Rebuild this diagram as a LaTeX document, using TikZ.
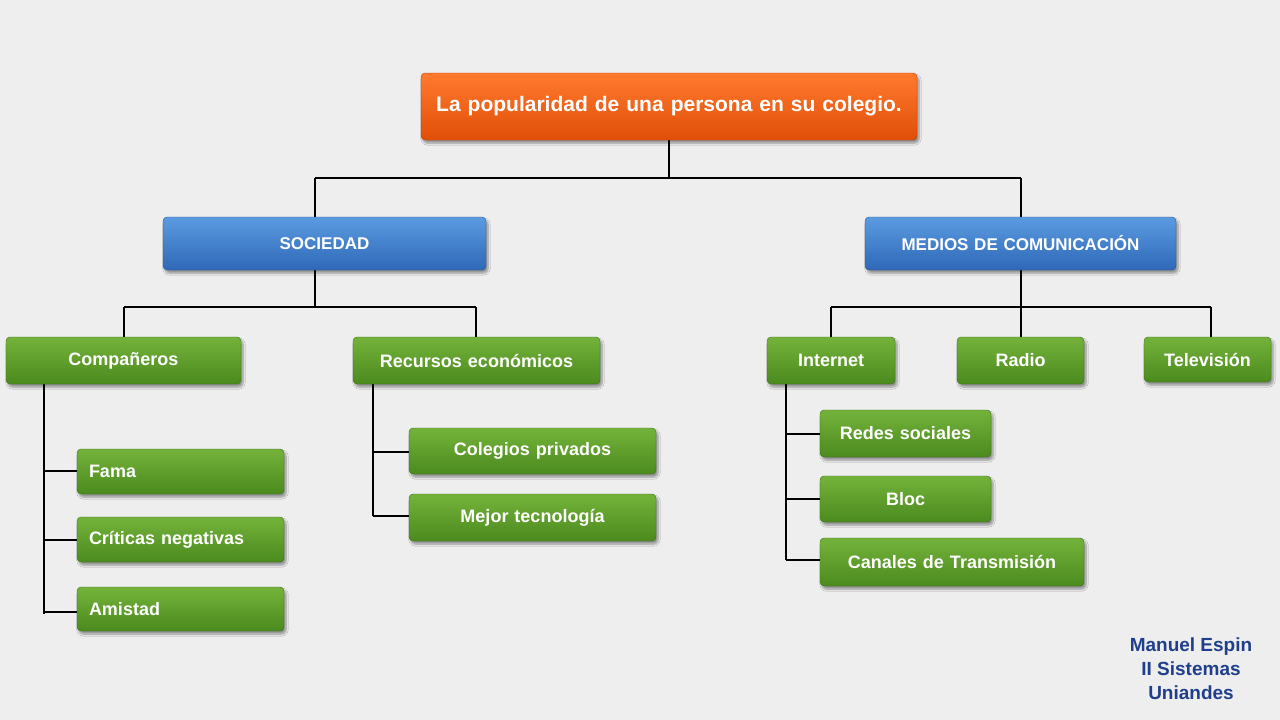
\documentclass[tikz,border=0pt]{standalone}
\usepackage{fontspec}
\setmainfont{Liberation Sans}
\usetikzlibrary{shadows.blur}
\definecolor{bg}{HTML}{EEEEEE}
\definecolor{gtop}{HTML}{74B33A}\definecolor{gbot}{HTML}{4B8A1E}
\definecolor{btop}{HTML}{5B9BE0}\definecolor{bbot}{HTML}{2F68B8}
\definecolor{otop}{HTML}{FF7A2E}\definecolor{obot}{HTML}{E04E08}
\definecolor{sig}{HTML}{1F3F8C}
\tikzset{
 x=1pt,y=-1pt,
 box/.style={rounded corners=4pt, text=white, font=\bfseries\fontsize{18}{20}\selectfont,
   blur shadow={shadow xshift=2pt,shadow yshift=-3pt,shadow blur steps=6,shadow opacity=40}, inner sep=0pt},
 gbox/.style={box, top color=gtop, bottom color=gbot, draw=gbot!80!black, line width=0.4pt},
 bbox/.style={box, top color=btop, bottom color=bbot, draw=bbot!80!black, line width=0.4pt},
 obox/.style={box, top color=otop, bottom color=obot, draw=obot!80!black, line width=0.4pt},
 conn/.style={line width=2.2pt, black}
}
\newcommand{\bx}[7]{\node[#1, minimum width={#4-#2}, minimum height={#5-#3}, text width={#4-#2-24}, align=#7] (#6) at ({(#2+#4)/2},{(#3+#5)/2})}
\begin{document}
\begin{tikzpicture}
\fill[bg] (0,0) rectangle (1280,720);
\useasboundingbox (0,0) rectangle (1280,720);
% connectors
\coordinate (t1) at (669,178); \coordinate (l1) at (315,178); \coordinate (r1) at (1021,178);
\coordinate (l2) at (315,307); \coordinate (la) at (124,307); \coordinate (lb) at (476,307);
\coordinate (r2) at (1021,307); \coordinate (ra) at (831,307); \coordinate (rb) at (1211,307);
\draw[conn] (669,140) -- (t1);
\draw[conn] (l1) -- (r1);
\draw[conn] (l1) -- (315,217); \draw[conn] (r1) -- (1021,217);
\draw[conn] (315,270) -- (l2); \draw[conn] (la) -- (lb);
\draw[conn] (la) -- (124,337); \draw[conn] (lb) -- (476,337);
\draw[conn] (1021,270) -- (r2); \draw[conn] (ra) -- (rb);
\draw[conn] (ra) -- (831,337); \draw[conn] (r2) -- (1021,337); \draw[conn] (rb) -- (1211,337);
\draw[conn] (44,384) -- (44,614);
\draw[conn] (44,471) -- (77,471); \draw[conn] (44,540) -- (77,540); \draw[conn] (44,612) -- (77,612);
\draw[conn] (373,384) -- (373,516);
\draw[conn] (373,452) -- (409,452); \draw[conn] (373,516) -- (409,516);
\draw[conn] (786,384) -- (786,560);
\draw[conn] (786,434) -- (820,434); \draw[conn] (786,499) -- (820,499); \draw[conn] (786,560) -- (820,560);
% boxes
\bx{obox,font=\bfseries\fontsize{21}{28}\selectfont}{421}{73}{917}{140}{top}{center}{La popularidad de una persona en su colegio.};
\bx{bbox,font=\bfseries\fontsize{17}{20}\selectfont}{163}{217}{486}{270}{soc}{center}{SOCIEDAD};
\bx{bbox,font=\bfseries\fontsize{17}{20}\selectfont}{865}{217}{1176}{270}{med}{center}{MEDIOS DE COMUNICACIÓN};
\bx{gbox}{6}{337}{241}{384}{comp}{center}{Compañeros};
\bx{gbox}{353}{337}{600}{384}{rec}{center}{Recursos económicos};
\bx{gbox}{767}{337}{895}{384}{int}{center}{Internet};
\bx{gbox}{957}{337}{1084}{384}{rad}{center}{Radio};
\bx{gbox}{1144}{337}{1271}{382}{tel}{center}{Televisión};
\bx{gbox}{77}{449}{284}{494}{fama}{left}{Fama};
\bx{gbox}{77}{517}{284}{562}{crit}{left}{Críticas negativas};
\bx{gbox}{77}{587}{284}{631}{amis}{left}{Amistad};
\bx{gbox}{409}{428}{656}{474}{cole}{center}{Colegios privados};
\bx{gbox}{409}{494}{656}{541}{mejo}{center}{Mejor tecnología};
\bx{gbox}{820}{410}{991}{457}{rede}{center}{Redes sociales};
\bx{gbox}{820}{476}{991}{522}{bloc}{center}{Bloc};
\bx{gbox}{820}{538}{1084}{586}{cana}{center}{Canales de Transmisión};
% signature
\node[text=sig, font=\bfseries\fontsize{19}{24}\selectfont, align=center] (sign) at (1191,669) {Manuel Espin\\II Sistemas\\Uniandes};
\end{tikzpicture}
\end{document}
